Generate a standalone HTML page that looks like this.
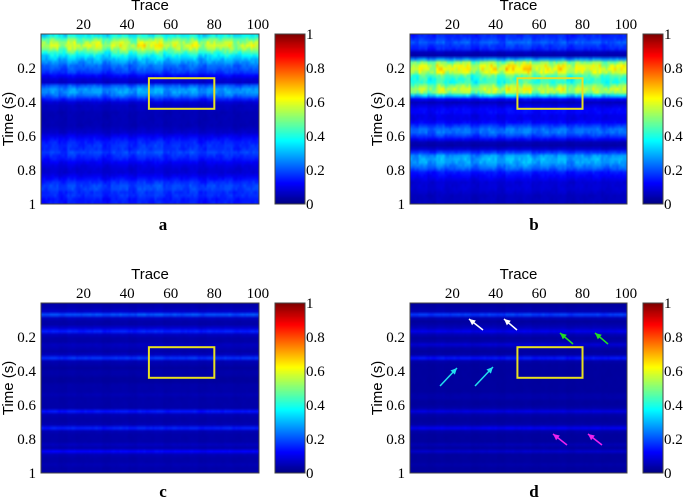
<!DOCTYPE html>
<html><head><meta charset="utf-8">
<style>
html,body{margin:0;padding:0;background:#fff;width:685px;height:499px;overflow:hidden}
svg{display:block}
.tk{font-family:"Liberation Serif",serif;font-size:15px;fill:#000}
.lab{font-family:"Liberation Sans",sans-serif;font-size:15px;fill:#000}
.pl{font-family:"Liberation Serif",serif;font-size:17px;font-weight:bold;fill:#000}
</style></head>
<body>
<div style="position:relative;width:685px;height:499px">
<canvas id="cv" width="685" height="499" style="position:absolute;left:0;top:0"></canvas>
<svg id="sv" width="685" height="499" style="position:absolute;left:0;top:0"></svg>
</div>
<script>
// time samples every 0.02 s (51 values, t=0..1)
const profileA=[0.35,0.45,0.52,0.55,0.5,0.42,0.35,0.3,0.26,0.22,0.2,0.17,0.12,0.08,0.07,0.2,0.26,0.26,0.22,0.15,0.08,0.06,0.06,0.05,0.05,0.05,0.05,0.05,0.06,0.07,0.1,0.13,0.15,0.16,0.16,0.18,0.16,0.14,0.11,0.09,0.08,0.08,0.1,0.13,0.16,0.18,0.18,0.16,0.16,0.14,0.14];
const profileB=[0.15,0.17,0.2,0.17,0.15,0.06,0.04,0.25,0.48,0.56,0.58,0.54,0.44,0.4,0.4,0.48,0.54,0.5,0.32,0.12,0.06,0.09,0.12,0.12,0.1,0.1,0.12,0.17,0.22,0.22,0.18,0.12,0.05,0.04,0.08,0.17,0.26,0.28,0.27,0.24,0.2,0.14,0.12,0.1,0.08,0.08,0.08,0.07,0.06,0.06,0.06];
const profileC=[0.04,0.05,0.07,0.2,0.06,0.04,0.04,0.08,0.15,0.06,0.04,0.04,0.06,0.05,0.04,0.06,0.17,0.05,0.04,0.03,0.04,0.04,0.03,0.03,0.04,0.04,0.04,0.05,0.04,0.04,0.04,0.04,0.14,0.05,0.04,0.04,0.05,0.15,0.05,0.04,0.04,0.04,0.06,0.04,0.12,0.05,0.04,0.04,0.05,0.04,0.04];
const profileD=[0.03,0.04,0.05,0.18,0.05,0.03,0.04,0.06,0.1,0.05,0.03,0.04,0.08,0.04,0.03,0.04,0.14,0.04,0.03,0.03,0.03,0.03,0.03,0.03,0.03,0.03,0.03,0.04,0.04,0.03,0.03,0.04,0.09,0.04,0.03,0.03,0.04,0.11,0.04,0.03,0.03,0.03,0.05,0.03,0.07,0.03,0.03,0.03,0.04,0.03,0.03];
// per-trace modulation (25 values across traces 1..100)
const traceMod=[0.9,1.1,0.85,1.2,0.95,1.05,1.15,0.8,1.1,1.2,0.9,1.25,1.1,1.3,0.95,1.15,1.0,1.2,0.85,1.1,1.0,1.15,0.9,1.05,1.1];
const xTicks=[20,40,60,80,100];
const yTicks=[0.2,0.4,0.6,0.8,1];
const cbTicks=[0,0.2,0.4,0.6,0.8,1];
const boxTraces=[50,80];
const boxTimes=[0.26,0.44];
const panels=[
 {id:'a',L:41,R:259,T:34,B:204,cbL:275,cbR:305,prof:profileA,mod:0.5,lab:'a',lx:163,ly:230},
 {id:'b',L:410,R:627,T:34,B:204,cbL:643,cbR:663,prof:profileB,mod:0.5,lab:'b',lx:534,ly:230},
 {id:'c',L:41,R:259,T:303,B:473,cbL:275,cbR:305,prof:profileC,mod:0.3,lab:'c',lx:163,ly:497},
 {id:'d',L:410,R:627,T:303,B:473,cbL:643,cbR:663,prof:profileD,mod:0.3,lab:'d',lx:534,ly:497}];
const arrows=[ // [x0,y0,x1,y1,color] in pixels of panel d
 [483,330,469,319,'#fff'],[517,330,504,319,'#fff'],
 [573,344,560,333,'#22dd22'],[608,344,595,333,'#22dd22'],
 [440,386,457,368,'#22ddee'],[475,386,493,367,'#22ddee'],
 [567,445,553,434,'#ee22ee'],[602,445,588,434,'#ee22ee']];

function jet(v){v=Math.max(0,Math.min(1,v));
 const r=Math.max(0,Math.min(1,1.5-Math.abs(4*v-3)));
 const g=Math.max(0,Math.min(1,1.5-Math.abs(4*v-2)));
 const b=Math.max(0,Math.min(1,1.5-Math.abs(4*v-1)));
 return [Math.round(r*255),Math.round(g*255),Math.round(b*255)];}
const ctx=document.getElementById('cv').getContext('2d');
const sv=document.getElementById('sv');
const NS='http://www.w3.org/2000/svg';
function el(tag,attrs,txt){const e=document.createElementNS(NS,tag);for(const k in attrs)e.setAttribute(k,attrs[k]);if(txt!==undefined)e.textContent=txt;sv.appendChild(e);return e;}

panels.forEach(p=>{
 const xs=t=>p.L+(t-0.5)/100*(p.R-p.L);
 const ys=v=>p.T+v*(p.B-p.T);
 const nx=100,ny=p.prof.length;
 const off=document.createElement('canvas');off.width=nx;off.height=ny;
 const oc=off.getContext('2d');const img=oc.createImageData(nx,ny);
 for(let j=0;j<ny;j++)for(let i=0;i<nx;i++){
  const m=traceMod[Math.floor(i/4)];
  const wig=traceMod[(i*7+j*3)%traceMod.length];
  const v=p.prof[j]*(1+(m-1)*p.mod+(wig-1)*0.8*p.mod);
  const c=jet(v);const k=(j*nx+i)*4;
  img.data[k]=c[0];img.data[k+1]=c[1];img.data[k+2]=c[2];img.data[k+3]=255;}
 oc.putImageData(img,0,0);
 ctx.imageSmoothingEnabled=true;
 ctx.drawImage(off,p.L,p.T,p.R-p.L,p.B-p.T);
 for(let y=p.T;y<p.B;y++){const c=jet(1-(y-p.T)/(p.B-p.T));ctx.fillStyle=`rgb(${c})`;ctx.fillRect(p.cbL,y,p.cbR-p.cbL,1);}
 const g=el('rect',{x:p.L,y:p.T,width:p.R-p.L,height:p.B-p.T,fill:'none',stroke:'#444','stroke-width':1});
 
 
 const cb=el('rect',{x:p.cbL,y:p.T,width:p.cbR-p.cbL,height:p.B-p.T,fill:'none',stroke:'#444','stroke-width':1});
 
 
 xTicks.forEach(t=>{const e=el('text',{x:xs(t),y:p.T-5,'text-anchor':'middle',class:'tk'},t);
  
  });
 yTicks.forEach(t=>{const e=el('text',{x:p.L-5,y:ys(t)+5,'text-anchor':'end',class:'tk'},t);
  
  });
 cbTicks.forEach(t=>{const e=el('text',{x:p.cbR+1,y:p.B-t*(p.B-p.T)+5,class:'tk'},t);
  
  });
 const xt=el('text',{x:(p.L+p.R)/2,y:p.T-24,'text-anchor':'middle',class:'lab'},'Trace');
 
 
 const yx=p.L-28,yy=(p.T+p.B)/2;
 const yt=el('text',{x:yx,y:yy,'text-anchor':'middle',class:'lab',transform:`rotate(-90 ${yx} ${yy})`},'Time (s)');
 
 
 const bx=el('rect',{x:xs(boxTraces[0]),y:ys(boxTimes[0]),width:xs(boxTraces[1])-xs(boxTraces[0]),height:ys(boxTimes[1])-ys(boxTimes[0]),fill:'none',stroke:'#e8e020','stroke-width':2});
 
 
 const pl=el('text',{x:p.lx,y:p.ly,'text-anchor':'middle',class:'pl'},p.lab);
 
 
});
arrows.forEach(a=>{
 const [x0,y0,x1,y1,c]=a;
 const ln=el('line',{x1:x0,y1:y0,x2:x1,y2:y1,stroke:c,'stroke-width':1.5});
 
 
 const ang=Math.atan2(y1-y0,x1-x0),s=7;
 const p1=[x1-s*Math.cos(ang-0.45),y1-s*Math.sin(ang-0.45)],p2=[x1-s*Math.cos(ang+0.45),y1-s*Math.sin(ang+0.45)];
 const hd=el('polygon',{points:`${x1},${y1} ${p1} ${p2}`,fill:c});
 
 
});
</script>
</body></html>
